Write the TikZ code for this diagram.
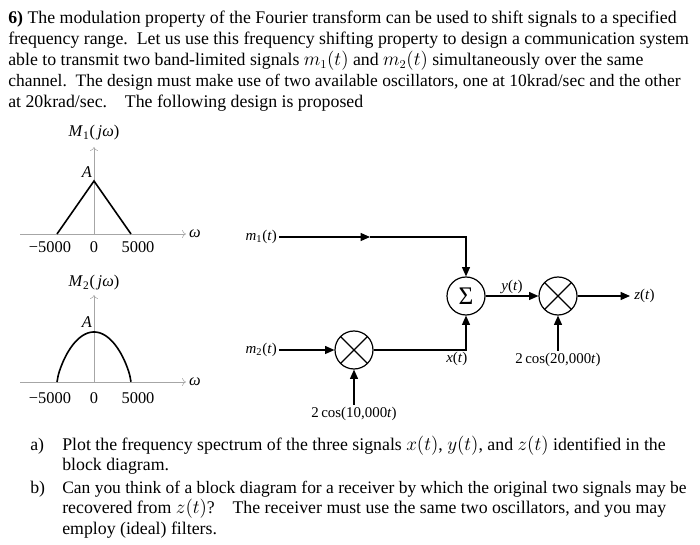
\documentclass[tikz,border=0pt]{standalone}
\usepackage{fontspec}
\setmainfont{Liberation Serif}
\usetikzlibrary{positioning,arrows.meta}

\begin{document}
\begin{tikzpicture}[x=0.75pt,y=-0.75pt,>={Triangle[length=7pt,width=6pt]},
    txt/.style={anchor=base west,inner sep=0pt,font=\fontsize{13.35}{15}\selectfont},
    lbl/.style={inner sep=1.5pt,font=\fontsize{11.2}{13}\selectfont},
    plbl/.style={inner sep=0pt,font=\fontsize{12.3}{14}\selectfont},
    axis/.style={gray!70,line width=0.4pt,-{To[length=3pt,width=6pt]}},
    curve/.style={line width=1.2pt},
    sig/.style={line width=0.9pt},
    sum/.style={circle,draw,line width=0.9pt,minimum size=28.5pt,inner sep=0pt},
    mult/.style={sum,path picture={
        \draw[line width=0.9pt] (path picture bounding box.north west) -- (path picture bounding box.south east)
          (path picture bounding box.north east) -- (path picture bounding box.south west);}}]
  \useasboundingbox (0,0) rectangle (700,545);

  % question text
  \node[txt] (l1) at (8,24) {\textbf{6)} The modulation property of the Fourier transform can be used to shift signals to a specified};
  \node[txt] (l2) at (8,45) {frequency range.\ \ Let us use this frequency shifting property to design a communication system};
  \node[txt] (l3) at (8,66) {able to transmit two band-limited signals $m_1(t)$ and $m_2(t)$ simultaneously over the same};
  \node[txt,font=\fontsize{13.1}{15}\selectfont] (l4) at (8,87) {channel.\hspace{0.5em}The design must make use of two available oscillators, one at 10krad/sec and the other};
  \node[txt] (l5) at (8,108) {at 20krad/sec.\quad The following design is proposed};

  % spectrum of m1
  \draw[axis] (20,234) -- (186,234);
  \draw[axis] (94,234) -- (94,147);
  \draw[curve] (57,234) -- (94,181) -- (131,234);
  \node[plbl] (M1) at (94,133) {\textit{M}\textsubscript{1}(\,\textit{jω})};
  \node[plbl] (A1) at (87,172) {\textit{A}};
  \node[plbl] (w1) at (195,234) {\textit{ω}};
  \node[plbl] (n1) at (50,247) {−5000};
  \node[plbl] (z1) at (94,247) {0};
  \node[plbl] (p1) at (138,247) {5000};

  % spectrum of m2
  \draw[axis] (20,382) -- (186,382);
  \draw[axis] (94,382) -- (94,295);
  \draw[curve] plot[domain=-1:1,samples=61,smooth] ({94+37*\x},{382-50*(1-\x*\x)^0.75});
  \node[plbl] (M2) at (94,283) {\textit{M}\textsubscript{2}(\,\textit{jω})};
  \node[plbl] (A2) at (87,322) {\textit{A}};
  \node[plbl] (w2) at (195,382) {\textit{ω}};
  \node[plbl] (n2) at (50,398) {−5000};
  \node[plbl] (z2) at (94,398) {0};
  \node[plbl] (p2) at (138,398) {5000};

  % block diagram
  \node[sum] (sum) at (466,296) {\fontsize{19}{19}\selectfont Σ};
  \node[mult] (mixB) [right=69pt of sum.center,anchor=center] {};
  \node[mult] (mixA) at (354,350) {};
  \node[lbl,anchor=east] (m1) at (279,237) {\textit{m}\textsubscript{1}(\textit{t})};
  \node[lbl,anchor=east] (m2) at (279,350) {\textit{m}\textsubscript{2}(\textit{t})};
  \coordinate (m1mid) at (370,237);
  \coordinate (zend) at (630,296);
  \node[lbl,anchor=west] (z) at (632,296) {\textit{z}(\textit{t})};
  \node[lbl] (osc1) at (354,414) {2\,cos(10,000\textit{t})};
  \node[lbl] (osc2) at (558,360) {2\,cos(20,000\textit{t})};

  \draw[sig,->] (m1) -- (m1mid);
  \draw[sig,->] (m1mid) -| (sum);
  \draw[sig,->] (m2) -- (mixA);
  \draw[sig,->] (mixA) -| node[lbl,below,pos=0.45] (x) {\textit{x}(\textit{t})} (sum);
  \draw[sig,->] (osc1) -- (mixA);
  \draw[sig,->] (sum) -- node[lbl,above] (y) {\textit{y}(\textit{t})} (mixB);
  \draw[sig,->] (osc2) -- (mixB);
  \draw[sig,->] (mixB) -- (zend);

  % parts a) and b)
  \node[txt] (qa) at (30,450) {a)};
  \node[txt] (qa1) at (62,450) {Plot the frequency spectrum of the three signals $x(t)$, $y(t)$, and $z(t)$ identified in the};
  \node[txt] (qa2) at (62,470) {block diagram.};
  \node[txt] (qb) at (30,493) {b)};
  \node[txt,font=\fontsize{13.1}{15}\selectfont] (qb1) at (62,493) {Can you think of a block diagram for a receiver by which the original two signals may be};
  \node[txt] (qb2) at (62,513) {recovered from $z(t)$?\quad The receiver must use the same two oscillators, and you may};
  \node[txt] (qb3) at (62,534) {employ (ideal) filters.};
\end{tikzpicture}
\end{document}
